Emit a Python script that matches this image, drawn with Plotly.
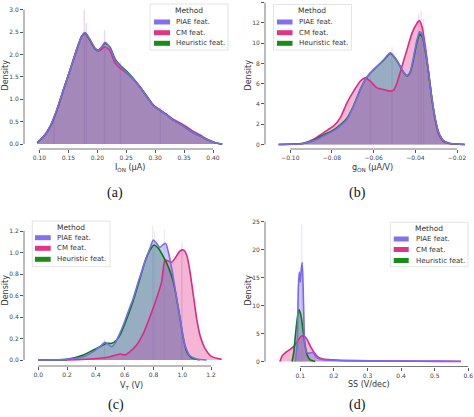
import plotly.graph_objects as go

W, H = 474, 417

# ---------------- data ----------------
methods = ["PIAE feat.", "CM feat.", "Heuristic feat."]

# (a) I_ON
ion_piae_x = [0.096, 0.1066, 0.118, 0.1298, 0.141, 0.1528, 0.164, 0.173, 0.1787, 0.186, 0.196, 0.2017, 0.2076, 0.2133, 0.222, 0.2306, 0.239, 0.2509, 0.2623, 0.2739, 0.2855, 0.297, 0.3085, 0.32, 0.3315, 0.343, 0.3547, 0.366, 0.3777, 0.389, 0.4036, 0.416]
ion_piae_y = [0.03, 0.16, 0.39, 0.76, 1.20, 1.65, 2.10, 2.40, 2.49, 2.36, 2.14, 2.09, 2.17, 2.27, 2.14, 1.88, 1.74, 1.60, 1.45, 1.27, 1.06, 0.86, 0.75, 0.65, 0.53, 0.45, 0.35, 0.25, 0.18, 0.10, 0.03, 0.0]
ion_cm_x = ion_piae_x
ion_cm_y = [0.03, 0.15, 0.37, 0.74, 1.19, 1.65, 2.09, 2.41, 2.47, 2.34, 2.12, 2.07, 2.12, 2.17, 2.08, 1.81, 1.70, 1.58, 1.44, 1.27, 1.07, 0.87, 0.76, 0.66, 0.55, 0.47, 0.38, 0.28, 0.20, 0.11, 0.03, 0.0]
ion_heur_x = ion_piae_x
ion_heur_y = [0.03, 0.16, 0.38, 0.75, 1.20, 1.65, 2.10, 2.40, 2.48, 2.35, 2.13, 2.09, 2.16, 2.25, 2.16, 1.90, 1.76, 1.62, 1.46, 1.27, 1.06, 0.86, 0.75, 0.65, 0.53, 0.45, 0.35, 0.25, 0.18, 0.10, 0.03, 0.0]
ion_spike_x = [0.125, 0.1775, 0.181, 0.2125, 0.240, 0.309]
ion_spike_y = [0.62, 3.0, 2.7, 2.55, 1.85, 0.82]

# (b) g_ON
gon_piae_x = [-0.1056, -0.0936, -0.0888, -0.084, -0.0792, -0.076, -0.0728, -0.0696, -0.0664, -0.064, -0.0616, -0.0584, -0.0552, -0.052, -0.0496, -0.0472, -0.0456, -0.044, -0.0424, -0.0408, -0.0392, -0.0379, -0.0366, -0.0352, -0.0336, -0.032, -0.0304, -0.0288, -0.0264, -0.0232, -0.0163]
gon_piae_y = [0.0, 0.10, 0.36, 0.85, 1.34, 1.83, 2.49, 3.79, 5.43, 6.41, 7.07, 7.72, 8.37, 9.06, 8.54, 7.72, 7.13, 6.80, 7.23, 8.70, 10.34, 11.15, 10.83, 9.36, 7.07, 4.45, 2.49, 1.18, 0.36, 0.10, 0.0]
gon_heur_x = gon_piae_x
gon_heur_y = [0.0, 0.12, 0.42, 0.95, 1.45, 1.95, 2.60, 3.85, 5.45, 6.40, 7.05, 7.70, 8.32, 8.98, 8.50, 7.70, 7.10, 6.78, 7.15, 8.50, 10.10, 10.90, 10.60, 9.20, 7.00, 4.42, 2.48, 1.18, 0.36, 0.10, 0.0]
gon_cm_x = [-0.1056, -0.0936, -0.0888, -0.084, -0.0792, -0.076, -0.0728, -0.0696, -0.0664, -0.064, -0.0616, -0.0584, -0.0552, -0.052, -0.0504, -0.0488, -0.0464, -0.044, -0.0416, -0.0392, -0.0381, -0.0368, -0.0352, -0.0336, -0.032, -0.0304, -0.0288, -0.0264, -0.0232, -0.0163]
gon_cm_y = [0.0, 0.12, 0.52, 1.18, 1.83, 2.65, 4.12, 5.27, 6.25, 6.58, 6.25, 5.59, 5.43, 5.27, 5.36, 6.08, 7.72, 9.36, 11.0, 11.97, 12.23, 11.65, 9.68, 7.07, 4.45, 2.32, 1.01, 0.26, 0.07, 0.0]
gon_spike_x = [-0.0615, -0.0512, -0.0385, -0.0372, -0.0360]
gon_spike_y = [6.9, 9.6, 12.9, 13.2, 12.4]

# (c) V_T
vt_piae_x = [0.0, 0.197, 0.313, 0.382, 0.4285, 0.463, 0.486, 0.51, 0.533, 0.556, 0.591, 0.625, 0.66, 0.695, 0.718, 0.741, 0.776, 0.799, 0.822, 0.845, 0.869, 0.885, 0.903, 0.927, 0.95, 0.973, 0.996, 1.019, 1.054, 1.1, 1.17]
vt_piae_y = [0.0, 0.006, 0.03, 0.078, 0.124, 0.164, 0.146, 0.124, 0.155, 0.217, 0.326, 0.45, 0.574, 0.729, 0.82, 0.915, 1.04, 1.116, 1.085, 1.048, 1.076, 1.085, 1.008, 0.853, 0.667, 0.481, 0.295, 0.14, 0.04, 0.01, 0.0]
vt_heur_x = [0.0, 0.197, 0.313, 0.382, 0.4285, 0.475, 0.51, 0.544, 0.568, 0.602, 0.637, 0.672, 0.7065, 0.741, 0.776, 0.804, 0.834, 0.869, 0.903, 0.938, 0.961, 0.985, 1.008, 1.031, 1.066, 1.12]
vt_heur_y = [0.0, 0.006, 0.047, 0.093, 0.124, 0.155, 0.155, 0.186, 0.233, 0.341, 0.465, 0.605, 0.76, 0.915, 1.023, 1.07, 1.039, 0.961, 0.868, 0.729, 0.574, 0.388, 0.2, 0.078, 0.02, 0.0]
vt_cm_x = [0.0, 0.197, 0.4285, 0.498, 0.568, 0.602, 0.637, 0.683, 0.73, 0.776, 0.822, 0.857, 0.88, 0.903, 0.927, 0.95, 0.985, 1.008, 1.031, 1.054, 1.077, 1.1, 1.123, 1.158, 1.205, 1.274]
vt_cm_y = [0.0, 0.0, 0.016, 0.031, 0.056, 0.047, 0.078, 0.14, 0.248, 0.403, 0.574, 0.729, 0.93, 0.921, 0.909, 0.946, 1.014, 1.023, 0.977, 0.822, 0.605, 0.388, 0.233, 0.109, 0.031, 0.006]
vt_spike_x = [0.46, 0.795, 0.805, 0.875, 0.995, 1.0]
vt_spike_y = [0.19, 1.25, 1.2, 1.22, 1.08, 1.1]

# (d) SS
ss_piae_x = [0.0853, 0.0902, 0.0941, 0.097, 0.100, 0.103, 0.1059, 0.1098, 0.1137, 0.1196, 0.1294, 0.1373, 0.149, 0.1686, 0.208, 0.306, 0.404, 0.502, 0.578]
ss_piae_y = [0.0, 2.8, 13.0, 16.0, 14.2, 16.6, 17.7, 10.0, 2.8, 1.6, 1.5, 1.6, 0.7, 0.3, 0.18, 0.12, 0.10, 0.06, 0.05]
ss_heur_x = [0.0755, 0.0804, 0.0863, 0.0922, 0.0961, 0.102, 0.1078, 0.1147, 0.1216, 0.1294, 0.144]
ss_heur_y = [0.0, 1.6, 5.2, 8.2, 9.3, 8.2, 5.8, 2.8, 1.0, 0.3, 0.0]
ss_cm_x = [0.0392, 0.046, 0.0559, 0.0706, 0.0824, 0.0922, 0.102, 0.1098, 0.1196, 0.1294, 0.1412, 0.1539, 0.1686, 0.208, 0.306, 0.404, 0.502, 0.578]
ss_cm_y = [0.0, 1.0, 1.6, 2.2, 2.8, 3.7, 4.5, 4.6, 4.0, 2.8, 1.6, 0.72, 0.42, 0.24, 0.12, 0.06, 0.02, 0.0]
ss_spike_x = [0.0955, 0.1045]
ss_spike_y = [15.5, 24.5]

# tick labels
a_xticks = [0.10, 0.15, 0.20, 0.25, 0.30, 0.35, 0.40]
a_xlabels = ["0.10", "0.15", "0.20", "0.25", "0.30", "0.35", "0.40"]
a_yticks = [0.0, 0.5, 1.0, 1.5, 2.0, 2.5, 3.0]
a_ylabels = ["0.0", "0.5", "1.0", "1.5", "2.0", "2.5", "3.0"]
b_xticks = [-0.10, -0.08, -0.06, -0.04, -0.02]
b_xlabels = ["\u22120.10", "\u22120.08", "\u22120.06", "\u22120.04", "\u22120.02"]
b_yticks = [0, 2, 4, 6, 8, 10, 12, 14]
b_ylabels = ["0", "2", "4", "6", "8", "10", "12", "14"]
c_xticks = [0.0, 0.2, 0.4, 0.6, 0.8, 1.0, 1.2]
c_xlabels = ["0.0", "0.2", "0.4", "0.6", "0.8", "1.0", "1.2"]
c_yticks = [0.0, 0.2, 0.4, 0.6, 0.8, 1.0, 1.2]
c_ylabels = ["0.0", "0.2", "0.4", "0.6", "0.8", "1.0", "1.2"]
d_xticks = [0.1, 0.2, 0.3, 0.4, 0.5, 0.6]
d_xlabels = ["0.1", "0.2", "0.3", "0.4", "0.5", "0.6"]
d_yticks = [0, 5, 10, 15, 20, 25]
d_ylabels = ["0", "5", "10", "15", "20", "25"]

# ---------------- styling ----------------
LINE = {"PIAE feat.": "#7B68EE", "CM feat.": "#DC2A82", "Heuristic feat.": "#008000"}
FILL = {"PIAE feat.": "rgba(123,104,238,0.36)", "CM feat.": "rgba(226,42,132,0.34)", "Heuristic feat.": "rgba(0,128,0,0.34)"}
SWATCH = {"PIAE feat.": "rgba(123,104,238,0.95)", "CM feat.": "rgba(220,42,130,0.95)", "Heuristic feat.": "rgba(0,128,0,0.9)"}
TXT = "#333333"
AXC = "#555555"
FONT = "DejaVu Sans"


def fx(px):
    return px / W


def fy(py):
    return 1 - py / H


panels = [
    dict(xa="x", ya="y",
         series={"PIAE feat.": (ion_piae_x, ion_piae_y), "CM feat.": (ion_cm_x, ion_cm_y), "Heuristic feat.": (ion_heur_x, ion_heur_y)},
         spikes=(ion_spike_x, ion_spike_y, 0.0025, "rgba(205,190,228,0.55)"),
         xdom=(24, 232), ydom=(149, 2), xpx=(39.5, 213.0), xv=(0.10, 0.40), ypx=(144.0, 9.6), yv=(0.0, 3.0),
         xt=(a_xticks, a_xlabels), yt=(a_yticks, a_ylabels),
         xtitle="I<sub>ON</sub> (\u03bcA)", xtitle_pos=(130, 168), ytitle_pos=(4.5, 75),
         caption="(a)", cap_pos=(115, 193),
         leg=dict(box=(150, 4, 228, 50), title=(189, 11), sw_x=(154, 170), rows=(22, 32.7, 43.3), tx=173.5)),
    dict(xa="x2", ya="y2",
         series={"PIAE feat.": (gon_piae_x, gon_piae_y), "CM feat.": (gon_cm_x, gon_cm_y), "Heuristic feat.": (gon_heur_x, gon_heur_y)},
         spikes=(gon_spike_x, gon_spike_y, 0.0006, "rgba(240,190,222,0.55)"),
         xdom=(265, 470), ydom=(149, 0), xpx=(290.3, 457.0), xv=(-0.10, -0.02), ypx=(144.5, 2.7), yv=(0.0, 14.0),
         xt=(b_xticks, b_xlabels), yt=(b_yticks, b_ylabels),
         xtitle="g<sub>ON</sub> (\u03bcA/V)", xtitle_pos=(372, 168), ytitle_pos=(247.5, 75),
         caption="(b)", cap_pos=(357, 193),
         leg=dict(box=(273.5, 4.5, 351.5, 50), title=(312, 11), sw_x=(277, 292.5), rows=(22, 32.7, 43.3), tx=297)),
    dict(xa="x3", ya="y3",
         series={"PIAE feat.": (vt_piae_x, vt_piae_y), "CM feat.": (vt_cm_x, vt_cm_y), "Heuristic feat.": (vt_heur_x, vt_heur_y)},
         spikes=(vt_spike_x, vt_spike_y, 0.006, "rgba(205,198,240,0.55)"),
         xdom=(24, 232), ydom=(366, 215), xpx=(38.3, 211.0), xv=(0.0, 1.2), ypx=(360.0, 231.0), yv=(0.0, 1.2),
         xt=(c_xticks, c_xlabels), yt=(c_yticks, c_ylabels),
         xtitle="V<sub>T</sub> (V)", xtitle_pos=(131, 385.5), ytitle_pos=(4.5, 290),
         caption="(c)", cap_pos=(116, 405),
         leg=dict(box=(32.3, 221, 110, 266.7), title=(71, 227.7), sw_x=(35, 50.7), rows=(237.7, 248.3, 259.3), tx=55)),
    dict(xa="x4", ya="y4",
         series={"PIAE feat.": (ss_piae_x, ss_piae_y), "CM feat.": (ss_cm_x, ss_cm_y), "Heuristic feat.": (ss_heur_x, ss_heur_y)},
         spikes=(ss_spike_x, ss_spike_y, 0.003, "rgba(205,198,245,0.5)"),
         xdom=(265, 474), ydom=(366.5, 215), xpx=(300.3, 468.3), xv=(0.1, 0.6), ypx=(361.5, 221.7), yv=(0.0, 25.0),
         xt=(d_xticks, d_xlabels), yt=(d_yticks, d_ylabels),
         xtitle="SS (V/dec)", xtitle_pos=(369, 384.5), ytitle_pos=(247.5, 290),
         caption="(d)", cap_pos=(357, 405),
         leg=dict(box=(390.3, 222.3, 468, 266.7), title=(429.3, 228.3), sw_x=(393.7, 408.7), rows=(239, 249.5, 260.5), tx=413.5)),
]

fig = go.Figure()
shapes = []
annotations = []
layout_axes = {}


def px_to_val(px, p_px, p_v):
    (p0, p1), (v0, v1) = p_px, p_v
    return v0 + (px - p0) * (v1 - v0) / (p1 - p0)


for p in panels:
    xa, ya = p["xa"], p["ya"]
    # fills
    for m in ["Heuristic feat.", "CM feat.", "PIAE feat."]:
        xs, ys = p["series"][m]
        fig.add_trace(go.Scatter(x=xs, y=ys, xaxis=xa, yaxis=ya, mode="lines",
                                 line=dict(width=0, shape="spline", smoothing=0.6),
                                 fill="tozeroy", fillcolor=FILL[m], showlegend=False, hoverinfo="skip"))
    # faint histogram spikes (light streaks, as in the reference)
    sx, sy, sw, sc = p["spikes"]
    fig.add_trace(go.Bar(x=sx, y=sy, width=[sw] * len(sx), xaxis=xa, yaxis=ya,
                         marker=dict(color=sc, line=dict(width=0)), showlegend=False, hoverinfo="skip"))
    # KDE lines
    for m in ["CM feat.", "Heuristic feat.", "PIAE feat."]:
        xs, ys = p["series"][m]
        fig.add_trace(go.Scatter(x=xs, y=ys, xaxis=xa, yaxis=ya, mode="lines",
                                 line=dict(width=1.6, color=LINE[m], shape="spline", smoothing=0.6),
                                 showlegend=False, name=m))

    xr = [px_to_val(p["xdom"][0], p["xpx"], p["xv"]), px_to_val(p["xdom"][1], p["xpx"], p["xv"])]
    yr = [px_to_val(p["ydom"][0], p["ypx"], p["yv"]), px_to_val(p["ydom"][1], p["ypx"], p["yv"])]
    common = dict(showgrid=False, zeroline=False, showline=False, ticks="outside", ticklen=3,
                  tickwidth=0.8, tickcolor=AXC, tickfont=dict(family=FONT, size=6, color="#444444"))
    xkey = "xaxis" + xa[1:]
    ykey = "yaxis" + ya[1:]
    layout_axes[xkey] = dict(domain=[fx(p["xdom"][0]), fx(p["xdom"][1])], range=xr, anchor=ya,
                             tickvals=p["xt"][0], ticktext=p["xt"][1], **common)
    layout_axes[ykey] = dict(domain=[fy(p["ydom"][0]), fy(p["ydom"][1])], range=yr, anchor=xa,
                             tickvals=p["yt"][0], ticktext=p["yt"][1], **common)

    # trimmed spines
    xt = p["xt"][0]
    yt = p["yt"][0]
    shapes.append(dict(type="line", xref=xa, yref="paper", x0=xt[0], x1=xt[-1],
                       y0=fy(p["ydom"][0]), y1=fy(p["ydom"][0]), line=dict(color=AXC, width=0.8), layer="above"))
    shapes.append(dict(type="line", xref="paper", yref=ya, x0=fx(p["xdom"][0]), x1=fx(p["xdom"][0]),
                       y0=yt[0], y1=yt[-1], line=dict(color=AXC, width=0.8), layer="above"))

    # axis titles
    annotations.append(dict(text=p["xtitle"], x=fx(p["xtitle_pos"][0]), y=fy(p["xtitle_pos"][1]),
                            xref="paper", yref="paper", showarrow=False, xanchor="center", yanchor="middle",
                            font=dict(family=FONT, size=8, color=TXT)))
    annotations.append(dict(text="Density", x=fx(p["ytitle_pos"][0]), y=fy(p["ytitle_pos"][1]),
                            xref="paper", yref="paper", showarrow=False, xanchor="center", yanchor="middle",
                            textangle=-90, font=dict(family=FONT, size=8, color=TXT)))
    # caption
    annotations.append(dict(text=p["caption"], x=fx(p["cap_pos"][0]), y=fy(p["cap_pos"][1]),
                            xref="paper", yref="paper", showarrow=False, xanchor="center", yanchor="middle",
                            font=dict(family="Liberation Serif", size=14, color="#111111")))

    # legend (drawn by hand)
    lg = p["leg"]
    bx0, by0, bx1, by1 = lg["box"]
    shapes.append(dict(type="rect", xref="paper", yref="paper", x0=fx(bx0), x1=fx(bx1), y0=fy(by1), y1=fy(by0),
                       fillcolor="rgba(255,255,255,0.85)", line=dict(color="#DDDDDD", width=0.8), layer="above"))
    annotations.append(dict(text="Method", x=fx(lg["title"][0]), y=fy(lg["title"][1]), xref="paper", yref="paper",
                            showarrow=False, xanchor="center", yanchor="middle",
                            font=dict(family=FONT, size=7.5, color=TXT)))
    for m, ry in zip(methods, lg["rows"]):
        shapes.append(dict(type="rect", xref="paper", yref="paper", x0=fx(lg["sw_x"][0]), x1=fx(lg["sw_x"][1]),
                           y0=fy(ry + 2.5), y1=fy(ry - 2.5), fillcolor=SWATCH[m], line=dict(width=0), layer="above"))
        annotations.append(dict(text=m, x=fx(lg["tx"]), y=fy(ry), xref="paper", yref="paper", showarrow=False,
                                xanchor="left", yanchor="middle", font=dict(family=FONT, size=7, color=TXT)))

fig.update_layout(
    width=W, height=H, margin=dict(l=0, r=0, t=0, b=0),
    paper_bgcolor="white", plot_bgcolor="rgba(0,0,0,0)",
    showlegend=False, shapes=shapes, annotations=annotations, barmode="overlay",
    font=dict(family=FONT, size=7, color=TXT),
    **layout_axes,
)

fig.write_html("out.html")
